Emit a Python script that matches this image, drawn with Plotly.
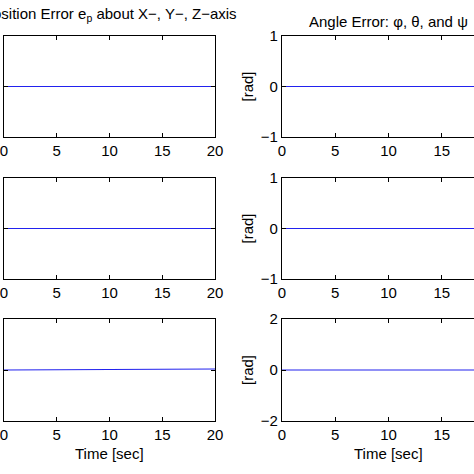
import plotly.graph_objects as go

# ---- data ----
time_sec = [0, 5, 10, 15, 20]
pos_err_x = [0, 0, 0, 0, 0]
pos_err_y = [0, 0, 0, 0, 0]
pos_err_z = [0, 0.005, 0.01, 0.02, 0.04]
ang_err_phi = [0, 0, 0, 0, 0]
ang_err_theta = [0, 0, 0, 0, 0]
ang_err_psi = [0, 0, 0, 0, 0]

x_ticks = [0, 5, 10, 15, 20]
y_ranges = [[-1, 1], [-1, 1], [-2, 2]]
y_ticks = [[-1, 0, 1], [-1, 0, 1], [-2, 0, 2]]

left_title = "Position Error e<sub>p</sub> about X\u2212, Y\u2212, Z\u2212axis"
right_title = "Angle Error: \u03c6, \u03b8, and \u03c8"
x_label = "Time [sec]"
y_label_right = "[rad]"

# ---- layout geometry (pixels) ----
W = H = 474
left_px = (4, 215)
right_px = (282, 495)
rows_px = [(36, 137), (178, 279), (319, 421)]

FONT = "Liberation Sans, Arial, Helvetica, sans-serif"
FS = 15
fig = go.Figure()

series_left = [pos_err_x, pos_err_y, pos_err_z]
series_right = [ang_err_phi, ang_err_theta, ang_err_psi]

def px_x(p):
    return p / W

def px_y(p):
    return 1 - p / H

layout = {}
n = 0
for r, (top, bot) in enumerate(rows_px):
    for c, (series, (x0, x1)) in enumerate([(series_left, left_px), (series_right, right_px)]):
        n += 1
        xa = "xaxis" if n == 1 else f"xaxis{n}"
        ya = "yaxis" if n == 1 else f"yaxis{n}"
        xr = "x" if n == 1 else f"x{n}"
        yr = "y" if n == 1 else f"y{n}"
        d_end = min(x1, W)
        xmax = 20 * (d_end - x0) / (x1 - x0)
        fig.add_trace(go.Scatter(x=time_sec, y=series[r], mode="lines",
                                 line=dict(color="#2222ee", width=1.2),
                                 xaxis=xr, yaxis=yr, showlegend=False,
                                 hoverinfo="skip"))
        layout[xa] = dict(domain=[px_x(x0), px_x(d_end)], range=[0, xmax],
                          anchor=yr, tickvals=x_ticks, ticks="inside", ticklen=4,
                          tickcolor="black", showline=True, linecolor="black",
                          linewidth=1.3, mirror="ticks", showgrid=False,
                          zeroline=False, automargin=False,
                          ticklabeloverflow="allow",
                          tickfont=dict(family=FONT, size=FS, color="black"))
        layout[ya] = dict(domain=[px_y(bot), px_y(top)], range=y_ranges[r],
                          anchor=xr, tickvals=y_ticks[r], ticks="inside", ticklen=4,
                          tickcolor="black", showline=True, linecolor="black",
                          linewidth=1.3, mirror=("ticks" if c == 0 else False),
                          showgrid=False, zeroline=False, automargin=False,
                          showticklabels=(c == 1),
                          tickfont=dict(family=FONT, size=FS, color="black"))

annotations = [
    dict(text=left_title, x=px_x((left_px[0] + left_px[1]) / 2), y=px_y(15),
         xref="paper", yref="paper", showarrow=False, xanchor="center", yanchor="middle",
         font=dict(family=FONT, size=FS, color="black")),
    dict(text=right_title, x=px_x((right_px[0] + right_px[1]) / 2), y=px_y(22),
         xref="paper", yref="paper", showarrow=False, xanchor="center", yanchor="middle",
         font=dict(family=FONT, size=FS, color="black")),
    dict(text=x_label, x=px_x((left_px[0] + left_px[1]) / 2), y=px_y(453),
         xref="paper", yref="paper", showarrow=False, xanchor="center", yanchor="middle",
         font=dict(family=FONT, size=FS, color="black")),
    dict(text=x_label, x=px_x((right_px[0] + right_px[1]) / 2), y=px_y(453),
         xref="paper", yref="paper", showarrow=False, xanchor="center", yanchor="middle",
         font=dict(family=FONT, size=FS, color="black")),
]
for top, bot in rows_px:
    annotations.append(dict(text=y_label_right, x=px_x(247), y=px_y((top + bot) / 2),
                            xref="paper", yref="paper", showarrow=False, textangle=-90,
                            xanchor="center", yanchor="middle",
                            font=dict(family=FONT, size=FS, color="black")))

fig.update_layout(width=W, height=H, margin=dict(l=0, r=0, t=0, b=0),
                  paper_bgcolor="white", plot_bgcolor="white",
                  annotations=annotations, **layout)

fig.write_html("out.html", config={"displayModeBar": False},
               post_script="document.body.style.margin='0';document.body.style.overflow='hidden';")
